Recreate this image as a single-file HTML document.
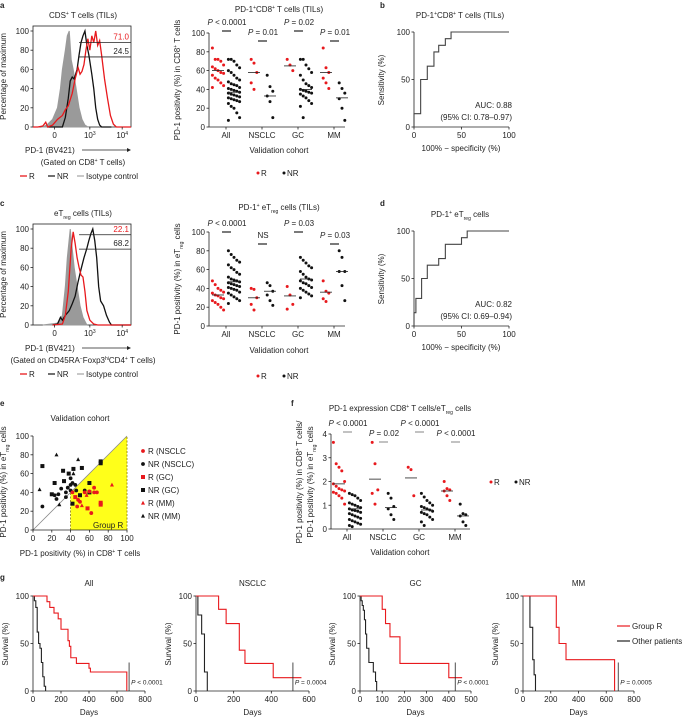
<!DOCTYPE html>
<html><head><meta charset="utf-8">
<style>
html,body{margin:0;padding:0;background:#fff;}
svg{display:block;font-family:"Liberation Sans",sans-serif;}
</style></head>
<body>
<svg id="fig" width="685" height="720" viewBox="0 0 685 720" xmlns="http://www.w3.org/2000/svg"></svg>
<script>
// ---------- DATA ----------
const categories = ['All','NSCLC','GC','MM'];
const aR = [[84,72,72,70,66,64,62,60,58,57,55,52,50,47,44,42],[72,68,58,47,40],[72,66,60],[84,63,58,52,47,41]];
const aNR = [[72,72,70,66,63,60,58,55,52,50,48,46,45,44,42,41,40,39,38,37,36,35,34,33,32,31,30,29,28,27,25,22,20,15,10,7],[55,43,38,33,27,10],[72,72,66,62,58,55,50,46,44,42,40,39,38,37,36,35,33,31,28,25,22,10],[47,41,36,30,20,7]];
const aMedR = [60,58,65,58];
const aMedNR = [37,33,40,31];
const aP = ['< 0.0001','= 0.01','= 0.02','= 0.01'];
const cR = [[48,44,40,38,36,35,33,32,30,29,27,25,23,20,17],[40,39,30,23,17],[42,33,23,18],[48,37,35,29,26]];
const cNR = [[80,76,73,70,68,65,62,60,57,55,52,50,49,48,47,46,45,44,43,42,41,40,39,38,36,35,33,31,29,27,24],[46,43,37,33,27,22],[73,70,67,64,62,58,55,52,50,49,48,46,45,43,41,40,38,36,34,32,30],[80,73,58,58,43,27]];
const cMedR = [33,30,32,36];
const cMedNR = [47,37,50,58];
const cP = ['P < 0.0001','NS','P = 0.03','P = 0.03'];
const fR = [[3.65,2.75,2.6,2.45,2.0,1.9,1.8,1.7,1.65,1.6,1.55,1.5,1.4,1.3,1.05],[3.65,2.75,1.65,1.5,1.05],[2.6,2.5,1.4],[2.0,1.7,1.65,1.6,1.4,1.2]];
const fNR = [[1.5,1.45,1.4,1.3,1.2,1.1,1.05,1.0,0.95,0.9,0.85,0.8,0.78,0.75,0.7,0.65,0.6,0.55,0.5,0.45,0.4,0.35,0.3,0.25,0.2,0.15,0.1],[1.5,1.3,0.95,0.85,0.6,0.4],[1.5,1.35,1.2,1.1,1.0,0.95,0.9,0.85,0.8,0.75,0.7,0.65,0.6,0.5,0.4,0.3,0.15],[1.05,0.65,0.6,0.55,0.3,0.15]];
const fMedR = [1.9,2.1,2.15,1.6];
const fMedNR = [0.85,0.9,0.8,0.55];
const fP = ['< 0.0001','= 0.02','< 0.0001','< 0.0001'];
const rocBx = [0,0,7,7,14,14,21,21,26,26,33,33,39,39,100];
const rocBy = [0,14,14,50,50,64,64,79,79,86,86,93,93,100,100];
const rocDx = [0,0,2,2,8,8,14,14,26,26,33,33,50,50,56,56,100];
const rocDy = [0,14,14,29,29,50,50,64,64,71,71,86,86,93,93,100,100];
const hAisoU=[10,15,20,25,28,30,33,35,37,39,41,44,47,50,53,56];
const hAisoV=[0,3,8,20,40,60,80,95,100,70,60,40,20,8,2,0];
const hANRU=[15,30,33,36,38,40,42,45,47,49,51,53,55,57,60,62,64,66,68,70,80];
const hANRV=[0,0,10,30,48,52,50,60,75,88,95,100,85,75,55,40,20,8,2,0,0];
const hARU=[0,5,10,13,15,20,25,30,33,36,40,43,46,48,50,52,54,56,58,60,62,64,66,68,70,73,76,79,82,85,100];
const hARV=[0,0,1,5,0,2,8,12,18,22,35,50,62,55,58,65,80,92,80,95,88,100,85,90,75,50,30,12,3,0,0];
const hCisoU=[10,25,30,33,35,37,38,40,42,45,48,51,55];
const hCisoV=[0,2,10,40,70,90,100,80,60,40,20,8,0];
const hCRU=[20,30,33,36,39,41,43,45,47,49,51,53,55,58,62,66,100];
const hCRV=[0,1,10,35,80,97,85,70,60,52,50,35,15,5,1,0,0];
const hCNRU=[20,25,28,30,33,37,40,43,46,49,52,55,57,59,61,63,65,67,69,72,75,78,80,100];
const hCNRV=[0,1,8,5,10,15,22,30,45,58,70,80,88,95,100,88,70,40,25,20,10,3,0,0];
const eX = [10,10,7,20,23,23,25,27,28,25,30,32,33,35,35,37,38,40,40,42,42,43,43,45,46,48,50,52,55,60,60,72,72,40, 42,45,48,50,52,55,57,58,60,62,65,65,68,72,72,84,47];
const eY = [68,25,43,38,50,37,33,38,27,80,44,63,52,40,35,45,60,42,48,50,28,65,60,48,42,75,37,66,42,50,40,71,73,55, 40,35,32,30,26,40,37,23,41,18,45,40,40,27,29,48,25];
const eG = ['NRGC','NRNS','NRMM','NRGC','NRGC','NRNS','NRNS','NRNS','NRMM','NRMM','NRNS','NRGC','NRGC','NRNS','NRNS','NRNS','NRGC','NRNS','NRNS','NRNS','NRGC','NRGC','NRMM','NRNS','NRNS','NRMM','NRGC','NRGC','NRNS','NRGC','NRGC','NRGC','NRGC','NRNS',
 'RNS','RGC','RNS','RNS','RMM','RNS','RMM','RGC','RNS','RNS','RNS','RNS','RNS','RGC','RGC','RMM','RNS'];
const kmAllRt=[0,90,100,120,150,180,200,240,250,260,270,310,400,410,670,670];
const kmAllRs=[100,100,94,88,82,76,65,65,53,47,35,29,24,20,20,0];
const kmAllNt=[0,10,20,30,40,50,60,70,80,90];
const kmAllNs=[100,95,88,62,50,45,30,15,5,0];
const kmNsRt=[0,120,160,230,260,410,560];
const kmNsRs=[100,86,71,43,29,14,14];
const kmNsNt=[0,10,30,45,60];
const kmNsNs=[100,80,60,20,0];
const kmGcRt=[0,100,115,135,180,400,460];
const kmGcRs=[100,86,71,57,29,14,14];
const kmGcNt=[0,5,10,15,20,25,30,40,60,70,75];
const kmGcNs=[100,95,90,85,75,60,45,30,20,10,0];
const kmMmRt=[0,240,260,310,660,660];
const kmMmRs=[100,67,50,33,33,0];
const kmMmNt=[0,50,70,80,90];
const kmMmNs=[100,67,33,17,0];

// ---------- HELPERS ----------
const S='http://www.w3.org/2000/svg';
const svg=document.getElementById('fig');
const RED='#e8191d';
function mk(tag,attrs,name,parent){
  const el=document.createElementNS(S,tag);
  for(const k in attrs) el.setAttribute(k,attrs[k]);
  
  
  (parent||svg).appendChild(el);
  return el;
}
function txt(x,y,html,name,o){
  o=o||{};
  const el=mk('text',{x:x,y:y,'font-size':o.fs||8,'text-anchor':o.a||'middle',fill:o.fill||'#222','font-weight':o.fw||'normal'},name);
  if(o.rot) el.setAttribute('transform','rotate(-90 '+x+' '+y+')');
  el.innerHTML=html;
  return el;
}
function line(x1,y1,x2,y2,name,o){o=o||{};return mk('line',{x1:x1,y1:y1,x2:x2,y2:y2,stroke:o.c||'#222','stroke-width':o.w||0.8,'stroke-dasharray':o.d||'none'},name);}
const sup=s=>'<tspan baseline-shift="super" font-size="5">'+s+'</tspan>';
const sub=s=>'<tspan baseline-shift="sub" font-size="5">'+s+'</tspan>';
const it=s=>'<tspan font-style="italic">'+s+'</tspan>';

function yAxis(x,y0,y1,ticks,labels,name){
  line(x,y0,x,y1,name+'-line');
  ticks.forEach((t,i)=>{
    const yy=y0+(y1-y0)*i/(ticks.length-1);
    line(x-2.5,yy,x,yy,name+'-tick');
    txt(x-4,yy+3,labels[i],name+'-tick-label',{a:'end'});
  });
}

txt(0,8,'a','panel-label-a',{a:'start',fw:'bold'});
txt(380,8,'b','panel-label-b',{a:'start',fw:'bold'});
txt(0,206,'c','panel-label-c',{a:'start',fw:'bold'});
txt(380,206,'d','panel-label-d',{a:'start',fw:'bold'});
txt(0,406,'e','panel-label-e',{a:'start',fw:'bold'});
txt(291,406,'f','panel-label-f',{a:'start',fw:'bold'});
txt(0,580,'g','panel-label-g',{a:'start',fw:'bold'});

function histPanel(y0,title,isoU,isoV,rU,rV,nU,nV,g1,g2,gated,pfx){
  const L=33,R=131,T=y0-101,B=y0;
  const X=u=>L+(R-L)*u/100, Y=v=>B-v*0.96;
  txt(83,T-8,title,pfx+'-title');
  mk('rect',{x:L,y:T,width:R-L,height:B-T,fill:'none',stroke:'#222','stroke-width':0.8},pfx+'-frame');
  let d='M'+X(isoU[0])+','+Y(0);
  isoU.forEach((u,i)=>d+=' L'+X(u)+','+Y(isoV[i]));
  mk('path',{d:d+'Z',fill:'#9a9a9a',stroke:'#9a9a9a'},pfx+'-isotype-fill');
  const poly=(U,V,c,n)=>mk('polyline',{points:U.map((u,i)=>X(u)+','+Y(V[i])).join(' '),fill:'none',stroke:c,'stroke-width':1.3},n);
  poly(nU,nV,'#111',pfx+'-nr-curve');
  poly(rU,rV,RED,pfx+'-r-curve');
  line(X(47),Y(g1[1]),R,Y(g1[1]),pfx+'-gate-r');
  txt(R-2,Y(g1[1])-3,g1[0],pfx+'-gate-r-value',{a:'end',fill:RED});
  line(X(47),Y(g2[1]),R,Y(g2[1]),pfx+'-gate-nr');
  txt(R-2,Y(g2[1])-3,g2[0],pfx+'-gate-nr-value',{a:'end'});
  [0,20,40,60,80,100].forEach(v=>{line(L-2.5,Y(v),L,Y(v),pfx+'-ytick');txt(L-4,Y(v)+3,v,pfx+'-ytick-label',{a:'end'});});
  txt(6,(T+B)/2,'Percentage of maximum',pfx+'-y-title',{rot:1});
  [[22,'0'],[58,'10'+sup('3')],[91,'10'+sup('4')]].forEach(t=>{line(X(t[0]),B,X(t[0]),B+2.5,pfx+'-xtick');txt(X(t[0]),B+11,t[1],pfx+'-xtick-label');});
  txt(25,B+26,'PD-1 (BV421)',pfx+'-x-title',{a:'start'});
  line(82,B+23,128,B+23,pfx+'-x-arrow');
  mk('path',{d:'M131,'+(B+23)+' l-4,-2 v4z',fill:'#222'},pfx+'-arrow-head');
  txt(83,B+38,gated,pfx+'-gated-note');
  const ly=B+52;
  line(20,ly-3,27,ly-3,pfx+'-legend-r-line',{c:RED,w:1.3}); txt(29,ly,'R',pfx+'-legend-r',{a:'start'});
  line(48,ly-3,55,ly-3,pfx+'-legend-nr-line',{w:1.3}); txt(57,ly,'NR',pfx+'-legend-nr',{a:'start'});
  line(77,ly-3,84,ly-3,pfx+'-legend-iso-line',{c:'#aaa',w:1.3}); txt(86,ly,'Isotype control',pfx+'-legend-iso',{a:'start'});
}
histPanel(127,'CDS'+sup('+')+' T cells (TILs)',hAisoU,hAisoV,hARU,hARV,hANRU,hANRV,['71.0',88],['24.5',73],'(Gated on CD8'+sup('+')+' T cells)','hist-a');
histPanel(325,'eT'+sub('reg')+' cells (TILs)',hCisoU,hCisoV,hCRU,hCRV,hCNRU,hCNRV,['22.1',94],['68.2',79],'(Gated on CD45RA'+sup('−')+'Foxp3'+sup('hi')+'CD4'+sup('+')+' T cells)','hist-c');

function dotPanel(o){
  const {ax,x0,dx,Y,ticks,tlabels,R,NR,mR,mNR,P,pY,barC,pfx}=o;
  yAxis(ax,Y(ticks[0]),Y(ticks[ticks.length-1]),ticks,tlabels,pfx+'-yaxis');
  line(ax,o.yb,o.right,o.yb,pfx+'-xaxis');
  categories.forEach((c,i)=>{
    const cx=x0+i*dx;
    line(cx,o.yb,cx,o.yb+2.5,pfx+'-xtick');
    txt(cx,o.yb+11,c,pfx+'-xtick-label');
    const grp=(vals,off,col,nm)=>{
      const cols=vals.length>10?5:3;
      vals.forEach((v,k)=>{
        const jit=((k%cols)-(cols-1)/2)*2.8;
        mk('circle',{cx:cx+off+jit,cy:Y(v),r:1.5,fill:col},nm);
      });
    };
    grp(R[i],-8,RED,pfx+'-dot-r');
    grp(NR[i],8,'#111',pfx+'-dot-nr');
    line(cx-14,Y(mR[i]),cx-2,Y(mR[i]),pfx+'-median-r');
    line(cx+2,Y(mNR[i]),cx+14,Y(mNR[i]),pfx+'-median-nr');
    const py=pY[i%2];
    line(cx-4,py+6,cx+5,py+6,pfx+'-pvalue-bar',{c:barC,w:1.2});
    txt(cx+1,py,P[i],pfx+'-pvalue',{fs:8});
  });
}
const ya=v=>127-v*0.94;
dotPanel({ax:209,x0:226,dx:36,Y:ya,yb:127,right:345,ticks:[0,20,40,60,80,100],tlabels:[0,20,40,60,80,100],R:aR,NR:aNR,mR:aMedR,mNR:aMedNR,P:aP.map(p=>it('P')+' '+p),pY:[25,35],barC:'#222',pfx:'dot-a'});
txt(279,12,'PD-1'+sup('+')+'CD8'+sup('+')+' T cells (TILs)','dot-a-title');
txt(180,80,'PD-1 positivity (%) in CD8'+sup('+')+' T cells','dot-a-y-title',{rot:1});
txt(279,153,'Validation cohort','dot-a-x-title');
mk('circle',{cx:258,cy:173,r:1.5,fill:RED},'dot-a-legend-r-marker'); txt(261,176,'R','dot-a-legend-r',{a:'start'});
mk('circle',{cx:284,cy:173,r:1.5,fill:'#111'},'dot-a-legend-nr-marker'); txt(287,176,'NR','dot-a-legend-nr',{a:'start'});

const yc=v=>326-v*0.94;
dotPanel({ax:209,x0:226,dx:36,Y:yc,yb:326,right:345,ticks:[0,20,40,60,80,100],tlabels:[0,20,40,60,80,100],R:cR,NR:cNR,mR:cMedR,mNR:cMedNR,P:cP.map(p=>p.startsWith('P')?it('P')+p.slice(1):p),pY:[226,238],barC:'#222',pfx:'dot-c'});
txt(279,210,'PD-1'+sup('+')+' eT'+sub('reg')+' cells (TILs)','dot-c-title');
txt(180,279,'PD-1 positivity (%) in eT'+sub('reg')+' cells','dot-c-y-title',{rot:1});
txt(279,353,'Validation cohort','dot-c-x-title');
mk('circle',{cx:258,cy:376,r:1.5,fill:RED},'dot-c-legend-r-marker'); txt(261,379,'R','dot-c-legend-r',{a:'start'});
mk('circle',{cx:284,cy:376,r:1.5,fill:'#111'},'dot-c-legend-nr-marker'); txt(287,379,'NR','dot-c-legend-nr',{a:'start'});

const yf=v=>529-v*23.75;
dotPanel({ax:331,x0:347,dx:36,Y:yf,yb:529,right:470,ticks:[0,1,2,3,4],tlabels:[0,1,2,3,4],R:fR,NR:fNR,mR:fMedR,mNR:fMedNR,P:fP.map(p=>it('P')+' '+p),pY:[426,436],barC:'#999',pfx:'dot-f'});
txt(400,411,'PD-1 expression CD8'+sup('+')+' T cells/eT'+sub('reg')+' cells','dot-f-title');
txt(302,482,'PD-1 positivity (%) in CD8'+sup('+')+' T cells/','dot-f-y-title-1',{rot:1});
txt(313,482,'PD-1 positivity (%) in eT'+sub('reg')+' cells','dot-f-y-title-2',{rot:1});
txt(400,555,'Validation cohort','dot-f-x-title');
mk('circle',{cx:491,cy:482,r:1.5,fill:RED},'dot-f-legend-r-marker'); txt(494,485,'R','dot-f-legend-r',{a:'start'});
mk('circle',{cx:516,cy:482,r:1.5,fill:'#111'},'dot-f-legend-nr-marker'); txt(519,485,'NR','dot-f-legend-nr',{a:'start'});

function rocPanel(y0,FX,FY,title,auc,ci,pfx){
  const X=f=>414+f*0.95, Y=s=>y0-s*0.95;
  txt(460,y0-109,title,pfx+'-title');
  yAxis(414,Y(0),Y(100),[0,50,100],[0,50,100],pfx+'-yaxis');
  line(414,y0,X(100),y0,pfx+'-xaxis');
  [0,50,100].forEach(v=>{line(X(v),y0,X(v),y0+2.5,pfx+'-xtick');txt(X(v),y0+11,v,pfx+'-xtick-label');});
  mk('polyline',{points:FX.map((f,i)=>X(f)+','+Y(FY[i])).join(' '),fill:'none',stroke:'#444','stroke-width':1.1},pfx+'-curve');
  txt(384,y0-47,'Sensitivity (%)',pfx+'-y-title',{rot:1});
  txt(461,y0+24,'100% − specificity (%)',pfx+'-x-title');
  txt(512,y0-19,'AUC: '+auc,pfx+'-auc',{a:'end'});
  txt(512,y0-7,'(95% CI: '+ci+')',pfx+'-ci',{a:'end'});
}
rocPanel(127,rocBx,rocBy,'PD-1'+sup('+')+'CD8'+sup('+')+' T cells (TILs)','0.88','0.78–0.97','roc-b');
rocPanel(326,rocDx,rocDy,'PD-1'+sup('+')+' eT'+sub('reg')+' cells','0.82','0.69–0.94','roc-d');

(function(){
  const X=v=>33+v*0.94, Y=v=>530-v*0.94;
  txt(80,421,'Validation cohort','scatter-e-title');
  mk('polygon',{points:[X(40)+','+Y(0),X(40)+','+Y(40),X(100)+','+Y(100),X(100)+','+Y(0)].join(' '),fill:'#ffff1a'},'group-r-region');
  line(X(0),Y(0),X(100),Y(100),'identity-line',{c:'#888'});
  line(X(40),Y(0),X(40),Y(40),'threshold-line',{c:'#8a7a00',d:'2,1.5'});
  line(X(100),Y(0),X(100),Y(100),'limit-line',{c:'#8a7a00',d:'2,1.5'});
  yAxis(X(0),Y(0),Y(100),[0,20,40,60,80,100],[0,20,40,60,80,100],'scatter-e-yaxis');
  line(X(0),Y(0),X(100),Y(0),'scatter-e-xaxis');
  [0,20,40,60,80,100].forEach(v=>{line(X(v),Y(0),X(v),Y(0)+2.5,'scatter-e-xtick');txt(X(v),Y(0)+11,v,'scatter-e-xtick-label');});
  txt(X(96),Y(2),'Group R','group-r-label',{a:'end'});
  const marker=(x,y,g,nm)=>{
    const col=g[0]==='R'?RED:'#111';
    if(g.endsWith('GC')) mk('rect',{x:x-2,y:y-2,width:4,height:4,fill:col},nm);
    else if(g.endsWith('MM')) mk('polygon',{points:x+','+(y-2.2)+' '+(x-2)+','+(y+1.6)+' '+(x+2)+','+(y+1.6),fill:col},nm);
    else mk('circle',{cx:x,cy:y,r:1.9,fill:col},nm);
  };
  eX.forEach((v,i)=>marker(X(v),Y(eY[i]),eG[i],'scatter-e-point'));
  txt(6,482,'PD-1 positivity (%) in eT'+sub('reg')+' cells','scatter-e-y-title',{rot:1});
  txt(80,556,'PD-1 positivity (%) in CD8'+sup('+')+' T cells','scatter-e-x-title');
  const leg=[['RNS','R (NSCLC'],['NRNS','NR (NSCLC)'],['RGC','R (GC)'],['NRGC','NR (GC)'],['RMM','R (MM)'],['NRMM','NR (MM)']];
  leg.forEach((l,i)=>{const y=451+i*13; marker(143,y,l[0],'scatter-e-legend-marker'); txt(148,y+3,l[1],'scatter-e-legend-label',{a:'start'});});
})();

function kmPanel(x0,x1,tmax,ticks,Rt,Rs,Nt,Ns,title,p,pfx){
  const X=t=>x0+(x1-x0)*t/tmax, Y=s=>691-s*0.95;
  txt((x0+x1)/2,586,title,pfx+'-title');
  yAxis(x0,Y(0),Y(100),[0,50,100],[0,50,100],pfx+'-yaxis');
  line(x0,Y(0),x1,Y(0),pfx+'-xaxis');
  ticks.forEach(v=>{line(X(v),Y(0),X(v),Y(0)+2.5,pfx+'-xtick');txt(X(v),Y(0)+11,v,pfx+'-xtick-label');});
  const step=(T,Sv,c,nm)=>{let d='M'+X(T[0])+','+Y(Sv[0]);for(let i=1;i<T.length;i++){d+=' H'+X(T[i])+' V'+Y(Sv[i]);}mk('path',{d:d,fill:'none',stroke:c,'stroke-width':1.1},nm);};
  step(Nt,Ns,'#222',pfx+'-other-curve');
  step(Rt,Rs,RED,pfx+'-group-r-curve');
  txt(x0-25,644,'Survival (%)',pfx+'-y-title',{rot:1});
  txt((x0+x1)/2,715,'Days',pfx+'-x-title');
  line(X(tmax*0.84)+2,Y(30),X(tmax*0.84)+2,Y(0),pfx+'-p-bracket');
  txt(X(tmax*0.84)+4,Y(7),it('P')+' '+p,pfx+'-pvalue',{a:'start',fs:6.5});
}
kmPanel(33,145,800,[0,200,400,600,800],kmAllRt,kmAllRs,kmAllNt,kmAllNs,'All','< 0.0001','km-all');
kmPanel(196,309,600,[0,200,400,600],kmNsRt,kmNsRs,kmNsNt,kmNsNs,'NSCLC','= 0.0004','km-nsclc');
kmPanel(360,471,500,[0,100,200,300,400,500],kmGcRt,kmGcRs,kmGcNt,kmGcNs,'GC','< 0.0001','km-gc');
kmPanel(523,634,800,[0,200,400,600,800],kmMmRt,kmMmRs,kmMmNt,kmMmNs,'MM','= 0.0005','km-mm');
line(617,626,630,626,'km-legend-group-r-line',{c:RED,w:1.2}); txt(632,629,'Group R','km-legend-group-r',{a:'start'});
line(617,641,630,641,'km-legend-other-line',{w:1.2}); txt(632,644,'Other patients','km-legend-other',{a:'start'});
</script>
</body></html>
